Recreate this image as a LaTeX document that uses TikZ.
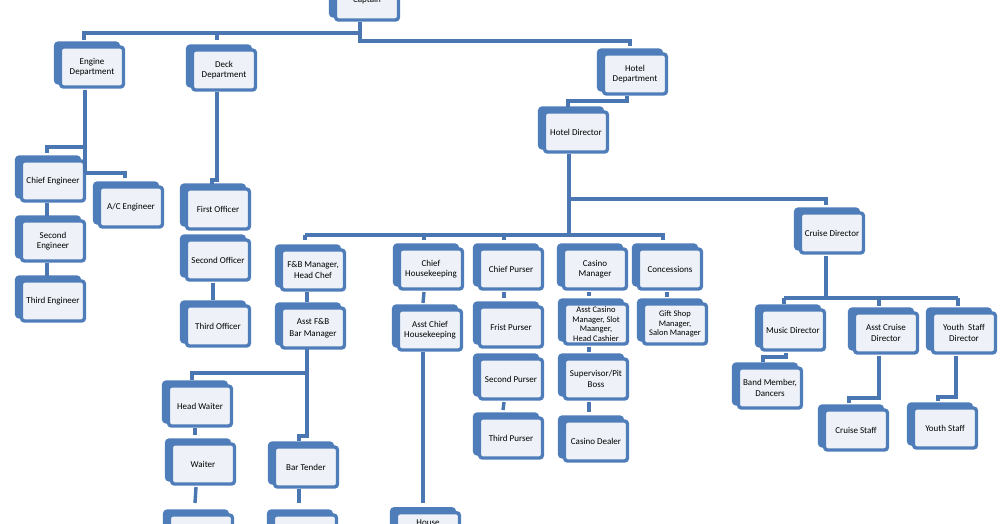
\documentclass[tikz,border=0pt]{standalone}
\usepackage{fontspec}
\setmainfont{Carlito}
\usetikzlibrary{shadows}
\definecolor{bb}{HTML}{4F7DBA}
\definecolor{ln}{HTML}{4A77B2}
\definecolor{inn}{HTML}{EEF2F8}
\begin{document}
\begin{tikzpicture}[x=1pt,y=-1pt,
  box/.style={draw=bb,line width=3.4pt,fill=inn,rounded corners=3pt,minimum width=63pt,minimum height=40pt,
    align=center,font=\fontsize{9}{10.5}\selectfont,inner sep=1pt,
    copy shadow={shadow xshift=-5pt,shadow yshift=4pt,fill=bb,draw=bb}},
  con/.style={draw=ln,line width=3.4pt}]
\useasboundingbox (0,0) rectangle (1000,524);
\clip (0,0) rectangle (1000,524);
\node[box] (cap) at (367,0) {Captain};
\node[box] (eng) at (92,67) {Engine\\Department};
\node[box] (deck) at (224,70) {Deck\\Department};
\node[box] (hdep) at (635,74) {Hotel\\Department};
\node[box] (hdir) at (576,132) {Hotel Director};
\node[box] (ce) at (53,181) {Chief Engineer};
\node[box] (ac) at (131,207) {A/C Engineer};
\node[box] (se) at (53,241) {Second\\Engineer};
\node[box] (te) at (53,301) {Third Engineer};
\node[box] (fo) at (218,209) {First Officer};
\node[box] (so) at (218,260) {Second Officer};
\node[box] (to) at (218,326) {Third Officer};
\node[box] (fb) at (313,270) {F\&B Manager,\\Head Chef};
\node[box] (afb) at (313,328) {Asst F\&B\\[2pt]Bar Manager};
\node[box] (chk) at (431,269) {Chief\\Housekeeping};
\node[box] (achk) at (430,330) {Asst Chief\\Housekeeping};
\node[box] (cp) at (511,269) {Chief Purser};
\node[box] (fp) at (511,327) {Frist Purser};
\node[box] (sp) at (511,379) {Second Purser};
\node[box] (tp) at (511,438) {Third Purser};
\node[box] (cm) at (595,269) {Casino\\Manager};
\node[box,font=\fontsize{8.5}{9.5}\selectfont] (acm) at (596,324) {Asst Casino\\Manager, Slot\\Maanger,\\Head Cashier};
\node[box] (sup) at (596,379) {Supervisor/Pit\\Boss};
\node[box] (cd) at (596,441) {Casino Dealer};
\node[box] (conc) at (670,269) {Concessions};
\node[box,font=\fontsize{8.5}{9.5}\selectfont] (gs) at (675,324) {Gift Shop\\Manager,\\Salon Manager};
\node[box] (crd) at (832,233) {Cruise Director};
\node[box] (md) at (793,330) {Music Director};
\node[box] (bm) at (770,388) {Band Member,\\Dancers};
\node[box] (acd) at (886,333) {Asst Cruise\\Director};
\node[box] (ysd) at (964,333) {Youth\ \ Staff\\Director};
\node[box] (cs) at (856,430) {Cruise Staff};
\node[box] (ys) at (945,428) {Youth Staff};
\node[box] (hw) at (200,406) {Head Waiter};
\node[box] (wt) at (203,464) {Waiter};
\node[box] (bt) at (306,467) {Bar Tender};
\node[box] (b1) at (201,535) {};
\node[box] (b2) at (305,535) {};
\node[box,anchor=north] (hs) at (428,511) {House\\ \\ };
% connectors
\draw[con] (cap.south -| 360,0) -- (360,33) -- (84,33) -- (84,40);
\draw[con] (217,33) -- (217,40);
\draw[con] (360,33) -- (360,41) -- (630,41) -- (630,46);
\draw[con] (85,90) -- (85,173);
\draw[con] (85,147) -- (47,147) -- (47,153);
\draw[con] (85,173) -- (125,173) -- (125,178);
\draw[con] (47,203) -- (47,216);
\draw[con] (47,263) -- (47,276);
\draw[con] (217,92) -- (217,180) -- (212,180) -- (212,184);
\draw[con] (213,283) -- (213,300);
\draw[con] (627,96) -- (627,101) -- (568,101) -- (568,107);
\draw[con] (569,154) -- (569,235);
\draw[con] (569,199) -- (826,199) -- (826,205);
\draw[con] (305,235) -- (663,235) -- (663,240);
\draw[con] (305,235) -- (305,240);
\draw[con] (424,235) -- (424,240);
\draw[con] (504,235) -- (504,240);
\draw[con] (307,292) -- (307,302);
\draw[con] (424,292) -- (423,303);
\draw[con] (504,292) -- (504,298);
\draw[con] (589,292) -- (589,296);
\draw[con] (667,292) -- (667,297);
\draw[con] (589,347) -- (589,352);
\draw[con] (504,402) -- (503,410);
\draw[con] (589,402) -- (589,412);
\draw[con] (307,349) -- (307,436) -- (299,436) -- (299,441);
\draw[con] (307,373) -- (192,373) -- (192,380);
\draw[con] (195,428) -- (195,435);
\draw[con] (196,487) -- (195,503);
\draw[con] (299,489) -- (299,503);
\draw[con] (423,352) -- (423,503);
\draw[con] (826,256) -- (826,298);
\draw[con] (784,298) -- (958,298);
\draw[con] (784,298) -- (784,304);
\draw[con] (879,298) -- (879,306);
\draw[con] (958,298) -- (958,306);
\draw[con] (786,353) -- (786,357) -- (763,357) -- (763,362);
\draw[con] (879,356) -- (879,398) -- (849,398) -- (849,403);
\draw[con] (956,356) -- (956,397) -- (938,397) -- (938,401);
\end{tikzpicture}
\end{document}
